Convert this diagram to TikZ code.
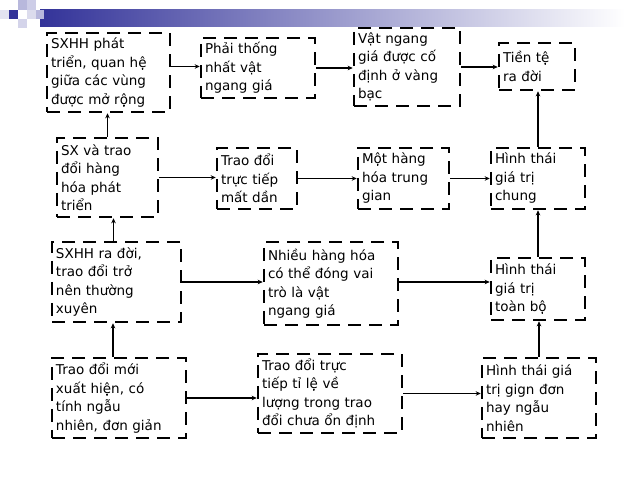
\documentclass[tikz,border=0pt]{standalone}
\usepackage{fontspec}
\setmainfont{DejaVu Sans}
\usetikzlibrary{arrows.meta}
\definecolor{navy}{HTML}{333399}
\definecolor{lav}{HTML}{B8B8DC}
\tikzset{
  box/.style={draw=black, line width=2.6pt, dash pattern=on 13pt off 8pt, align=left,
    inner xsep=4pt, inner ysep=2pt, font=\fontsize{13.5pt}{18.5pt}\selectfont, anchor=center},
  arr/.style={line width=1.3pt, -{Stealth[length=5pt,width=4.5pt]}}
}
\begin{document}
\begin{tikzpicture}[x=1pt,y=1pt]
\useasboundingbox (0,0) rectangle (638,478);
% header decoration
\shade[left color=navy, right color=white] (40,451) rectangle (625,468);
\fill[navy] (9,459) rectangle (18,468);
\fill[lav] (18,468) rectangle (27,478);
\fill[lav!70] (27,468) rectangle (36,478);
\fill[lav] (36,459) rectangle (44,468);
\fill[lav!60] (18,450) rectangle (27,459);
\fill[lav!40] (0,459) rectangle (9,468);
\fill[lav!50] (27,459) rectangle (36,468);
% boxes
\node[box, minimum width=123, minimum height=79, text width=115] (n1) at (108.5,405.5) {SXHH phát\\triển, quan hệ\\giữa các vùng\\được mở rộng};
\node[box, minimum width=114, minimum height=60, text width=106] (n2) at (258,410) {Phải thống\\nhất vật\\ngang giá};
\node[box, minimum width=106, minimum height=78, text width=98] (n3) at (407,411) {Vật ngang\\giá được cố\\định ở vàng\\bạc};
\node[box, minimum width=76, minimum height=47, text width=68] (n4) at (537,411.5) {Tiền tệ\\ra đời};
\node[box, minimum width=101, minimum height=79, text width=93] (n5) at (107.5,300.5) {SX và trao\\đổi hàng\\hóa phát\\triển};
\node[box, minimum width=80, minimum height=61, text width=72] (n6) at (257,299.5) {Trao đổi\\trực tiếp\\mất dần};
\node[box, minimum width=91, minimum height=61, text width=83] (n7) at (403.5,299.5) {Một hàng\\hóa trung\\gian};
\node[box, minimum width=94, minimum height=61, text width=86] (n8) at (538,299.5) {Hình thái\\giá trị\\chung};
\node[box, minimum width=129, minimum height=80, text width=121] (n9) at (116.5,196) {SXHH ra đời,\\trao đổi trở\\nên thường\\xuyên};
\node[box, minimum width=134, minimum height=83, text width=126] (n10) at (331,194.5) {Nhiều hàng hóa\\có thể đóng vai\\trò là vật\\ngang giá};
\node[box, minimum width=94, minimum height=62, text width=86] (n11) at (538,189) {Hình thái\\giá trị\\toàn bộ};
\node[box, minimum width=134, minimum height=80, text width=126] (n12) at (119,80) {Trao đổi mới\\xuất hiện, có\\tính ngẫu\\nhiên, đơn giản};
\node[box, minimum width=144, minimum height=79, text width=136] (n13) at (330,84.5) {Trao đổi trực\\tiếp tỉ lệ về\\lượng trong trao\\đổi chưa ổn định};
\node[box, minimum width=114, minimum height=80, text width=106] (n14) at (539,80) {Hình thái giá\\trị gign đơn\\hay ngẫu\\nhiên};
% arrows
\draw[arr] ([yshift=6pt]n1.east) -- ([yshift=6pt]n1.east -| n2.west);
\draw[arr] (n2.east) -- (n2.east -| n3.west);
\draw[arr] (n3.east) -- (n3.east -| n4.west);
\draw[arr] (n5.north) -- (n5.north |- n1.south);
\draw[arr] (n5.east) -- (n5.east -| n6.west);
\draw[arr] (n6.east) -- (n6.east -| n7.west);
\draw[arr] (n7.east) -- (n7.east -| n8.west);
\draw[arr] (n8.north) -- (n8.north |- n4.south);
\draw[arr] ([xshift=-3pt]n9.north) -- ([xshift=-3pt]n9.north |- n5.south);
\draw[arr] (n9.east) -- (n9.east -| n10.west);
\draw[arr] ([yshift=1.5pt]n10.east) -- ([yshift=1.5pt]n10.east -| n11.west);
\draw[arr] (n11.north) -- (n11.north |- n8.south);
\draw[arr] ([xshift=-6pt]n12.north) -- ([xshift=-6pt]n12.north |- n9.south);
\draw[arr] (n12.east) -- (n12.east -| n13.west);
\draw[arr] (n13.east) -- (n13.east -| n14.west);
\draw[arr] (n14.north) -- (n14.north |- n11.south);
\end{tikzpicture}
\end{document}
